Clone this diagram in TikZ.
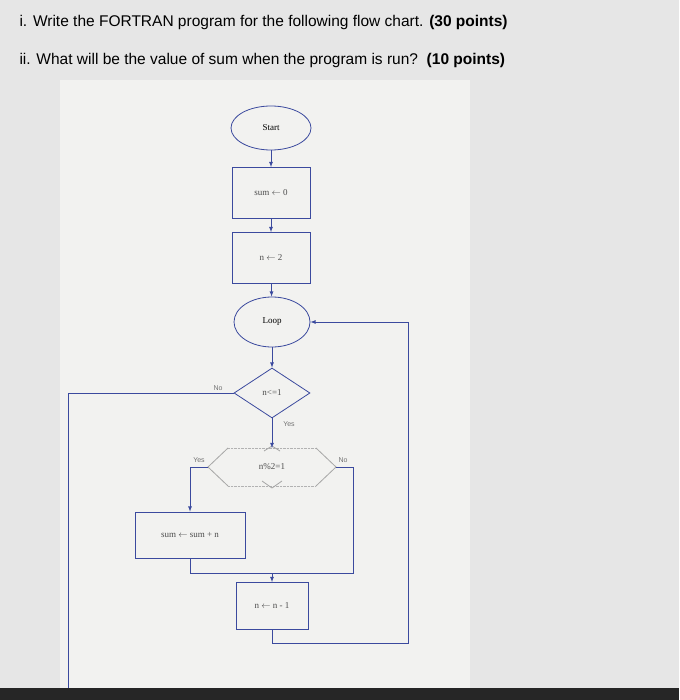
\documentclass[tikz,border=0pt]{standalone}
\usepackage{fontspec}
\setmainfont{Liberation Serif}
\newfontfamily\sans{Liberation Sans}
\usetikzlibrary{shapes.geometric}
\definecolor{ln}{HTML}{3B4A9E}
\definecolor{bgc}{HTML}{E6E6E6}
\definecolor{pan}{HTML}{F2F2F0}
\begin{document}
\begin{tikzpicture}[x=1pt,y=-1pt,
  ln/.style={draw=ln,line width=0.8pt},
  box/.style={ln,fill=none,rectangle,minimum width=78pt,minimum height=51pt,font=\small,text=black!70},
  oval/.style={ln,ellipse,font=\small,text=black},
  lab/.style={font=\sans\fontsize{7}{8}\selectfont,text=black!55},
  arr/.style={ln,->,>={latex}}]
\useasboundingbox (0,0) rectangle (679,700);
\fill[bgc] (0,0) rectangle (679,700);
\fill[pan] (60,80) rectangle (470,688);
\fill[black!85] (0,688) rectangle (679,700);
\node[anchor=west,font=\sans\fontsize{15.5}{18}\selectfont] (t1) at (16,22) {i. Write the FORTRAN program for the following flow chart. \textbf{(30 points)}};
\node[anchor=west,font=\sans\fontsize{15.5}{18}\selectfont] (t2) at (16,60) {ii. What will be the value of sum when the program is run?\ \ \textbf{(10 points)}};
\node[oval,minimum width=80pt,minimum height=44pt] (start) at (271,128) {Start};
\node[box] (s0) at (271,193) {sum $\leftarrow$ 0};
\node[box] (n2) at (271,258) {n $\leftarrow$ 2};
\node[oval,minimum width=76pt,minimum height=50pt] (loop) at (272,322) {Loop};
\node[ln,diamond,aspect=1.5,minimum width=76pt,minimum height=50pt,inner sep=0pt,font=\small,text=black!70] (d1) at (272,393) {n<=1};
\node[font=\small,text=black!70] (d2) at (272,467) {n\%2=1};
\coordinate (d2l) at (208,467);
\coordinate (d2r) at (336,467);
\coordinate (d2t) at (272,448);
\draw[gray!70,line width=0.8pt] (228,448) -- (d2l) -- (228,486);
\draw[gray!70,line width=0.8pt] (316,448) -- (d2r) -- (316,486);
\draw[gray!60,densely dotted] (228,448) -- (316,448) (228,486) -- (316,486);
\draw[gray!70,line width=0.8pt] (262,481) -- (272,488) -- (282,481);
\draw[gray!70,line width=0.8pt] (264,451) -- (272,446) -- (280,451);
\node[box,minimum width=110pt,minimum height=46pt] (s1) at (190,535) {sum $\leftarrow$ sum + n};
\node[box,minimum width=72pt,minimum height=47pt] (n1) at (272,606) {n $\leftarrow$ n - 1};
\coordinate (m) at (272,573);
\draw[arr] (start) -- (s0);
\draw[arr] (s0) -- (n2);
\draw[arr] (n2) -- (loop);
\draw[arr] (loop) -- (d1);
\draw[ln] (d1.west) -- (68,393) -- (68,688);
\draw[arr] (d1) -- (d2t);
\draw[arr] (d2l) -- (190,467) -- (s1.north);
\draw[ln] (d2r) -- (353,467) -- (353,573) -- (m);
\draw[ln] (s1.south) -- (190,573) -- (m);
\draw[arr] (m) -- (n1);
\draw[arr] (n1.south) -- (272,643) -- (408,643) -- (408,322) -- (loop.east);
\node[lab] (lno1) at (218,388) {No};
\node[lab] (lyes1) at (289,424) {Yes};
\node[lab] (lyes2) at (199,460) {Yes};
\node[lab] (lno2) at (343,460) {No};
\end{tikzpicture}
\end{document}
